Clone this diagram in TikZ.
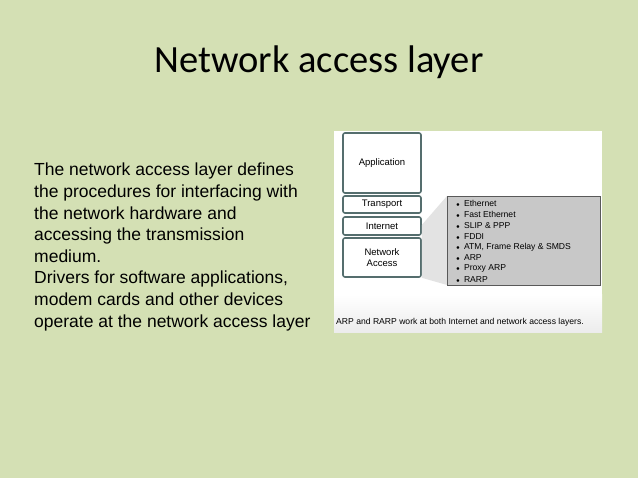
\documentclass[tikz,border=0pt]{standalone}
\usepackage{fontspec}
\setmainfont{Liberation Sans}
\newfontfamily\titlefont{Carlito}
\definecolor{bg}{RGB}{212,224,180}
\definecolor{edge}{RGB}{85,110,110}
\definecolor{listbg}{RGB}{200,200,200}
\tikzset{x=1pt,y=-1pt,
 layer/.style={draw=edge,line width=1.6pt,rounded corners=2pt,fill=white,inner sep=0pt,font=\fontsize{9.5}{10.5}\selectfont,align=center},
 item/.style={anchor=west,font=\fontsize{8.6}{9}\selectfont,inner sep=0pt}}
\begin{document}
\begin{tikzpicture}
\useasboundingbox (0,0) rectangle (638,478);
\fill[bg] (0,0) rectangle (638,478);
\node[font=\titlefont\fontsize{38.5}{44}\selectfont] (title) at (319,62) {Network access layer};
\node[anchor=north west,align=left,inner sep=0pt,font=\fontsize{17.5}{21.6}\selectfont] (body) at (34,163) {The network access layer defines\\the procedures for interfacing with\\the network hardware and\\accessing the transmission\\medium.\\Drivers for software applications,\\modem cards and other devices\\operate at the network access layer};
\fill[white] (334,131) rectangle (602,333);
\shade[top color=white,bottom color=gray!15] (334,295) rectangle (602,333);
\node[layer,minimum width=78,minimum height=60] (app) at (382,163) {Application};
\node[layer,minimum width=78,minimum height=17] (tr) at (382,204.5) {Transport};
\node[layer,minimum width=78,minimum height=18] (inet) at (382,226) {Internet};
\node[layer,minimum width=78,minimum height=39] (na) at (382,257.5) {Network\\Access};
\fill[gray!22] (na.east|-0,225) -- (447,196) -- (447,285) -- (na.south east) -- cycle;
\node[draw=gray!70!black,fill=listbg,minimum width=153,minimum height=89,inner sep=0pt] (list) at (523.5,240.5) {};
\foreach \t [count=\i] in {Ethernet,Fast Ethernet,SLIP \& PPP,FDDI,{ATM, Frame Relay \& SMDS},ARP,Proxy ARP,RARP}
  \node[item] at (456,192.5+10.9*\i) {$\scriptstyle\bullet$\hspace{4pt}\t};
\node[anchor=west,inner sep=0pt,font=\fontsize{8.6}{9}\selectfont] (cap) at (336,322) {ARP and RARP work at both Internet and network access layers.};
\end{tikzpicture}
\end{document}
